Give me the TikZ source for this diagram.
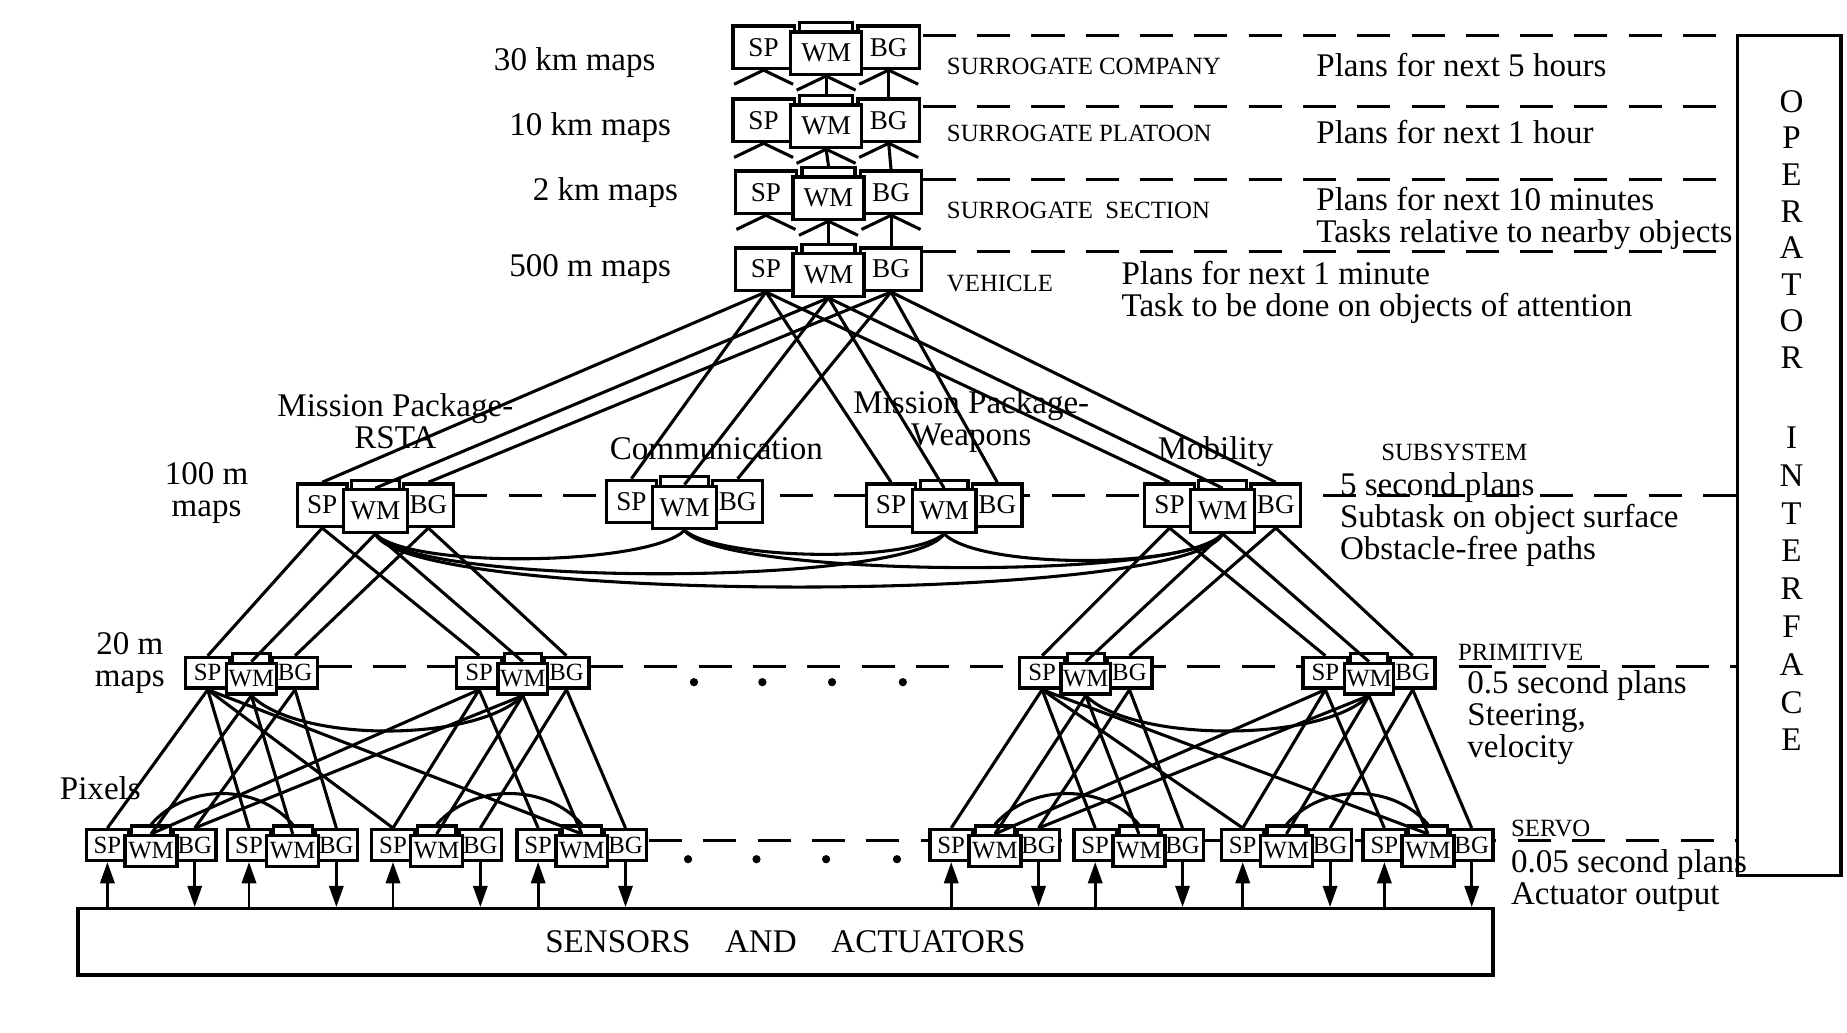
\documentclass[tikz,border=0pt]{standalone}
\usepackage{fontspec}
\setmainfont{Liberation Serif}
\usetikzlibrary{arrows.meta,calc}
\tikzset{
  bx/.style={draw,line width=1.4pt,fill=white,inner sep=0pt},
  ln/.style={line width=1.3pt},
  dsh/.style={line width=1.4pt,dash pattern=on 14pt off 9pt},
  lbl/.style={inner sep=0pt,font=\fontsize{14}{13.5}\selectfont},
  sml/.style={inner sep=0pt,font=\fontsize{10.5}{12}\selectfont},
  arr/.style={line width=1.2pt,-{Triangle[length=9pt,width=6pt]}}
}
% name, x, y, box width, WM width, height, font
\newcommand\triad[7]{%
  \node[bx,font=#7,minimum width=#4*0.5pt,minimum height=#6*0.5pt] (#1sp) at ({#2-(#4+#5)/2+3},#3) {SP};
  \node[bx,font=#7,minimum width=#4*0.5pt,minimum height=#6*0.5pt] (#1bg) at ({#2+(#4+#5)/2-3},#3) {BG};
  \node[bx,minimum width=#5*0.75*0.5pt,minimum height=4pt] (#1tab) at (#2,{#3-#6/2+1}) {};
  \node[bx,font=#7,minimum width=#5*0.5pt,minimum height=#6*0.5pt] (#1wm) at (#2,#3+5) {WM};}
\begin{document}
\begin{tikzpicture}[x=0.5pt,y=-0.5pt]
\useasboundingbox (0,0) rectangle (1565,875);
% operator interface and sensors
\node[draw,line width=1.4pt,minimum width=44pt,minimum height=356pt,inner sep=0pt] (op) at (1516,386) {};
\foreach \c [count=\i] in {O,P,E,R,A,T,O,R} \node[lbl] (o\i) at (1518,{55+\i*31}) {\c};
\foreach \c [count=\i] in {I,N,T,E,R,F,A,C,E} \node[lbl] (i\i) at (1518,{339+\i*32}) {\c};
\node[draw,line width=1.4pt,minimum width=599.5pt,minimum height=28pt,font=\fontsize{14}{15}\selectfont] (sens) at (665.5,798) {SENSORS\hspace{1.05em}AND\hspace{1.05em}ACTUATORS};
% dashed level lines (behind boxes)
\foreach \y in {30,90,152,213,420,565,712} \coordinate (d\y) at (782,\y);
\draw[dsh] (782,30) -- (op.west |- d30);
\draw[dsh] (782,90) -- (op.west |- d90);
\draw[dsh] (782,152) -- (op.west |- d152);
\draw[dsh] (782,213) -- (op.west |- d213);
\draw[dsh] (385,420) -- (op.west |- d420);
\draw[dsh] (270,565) -- (op.west |- d565);
\draw[dsh] (550,712) -- (op.west |- d712);
% top stack
\def\tf{\fontsize{11.5}{12}\selectfont}
\triad{t1}{700}{40}{52}{60}{36}{\tf}
\triad{t2}{700}{102}{52}{60}{36}{\tf}
\triad{t3}{702}{163}{52}{60}{36}{\tf}
\triad{t4}{702}{228}{52}{60}{36}{\tf}
\foreach \a/\b in {t1/t2,t2/t3,t3/t4}{
  \draw[ln] (\a wm.south) -- (\b tab.north);
  \draw[ln] (\a bg.south) -- (\b bg.north);
  \foreach \n in {sp,wm,bg}{
    \draw[ln] (\a\n.south) -- ++(-25,12);
    \draw[ln] (\a\n.south) -- ++(25,12);}}
% subsystems
\def\sf{\fontsize{11.5}{12}\selectfont}
\triad{a1}{318}{428}{42}{54}{36}{\sf}
\triad{a2}{580}{425}{42}{54}{36}{\sf}
\triad{a3}{800}{428}{42}{54}{36}{\sf}
\triad{a4}{1036}{428}{42}{54}{36}{\sf}
\foreach \s in {a1,a2,a3,a4}
  \foreach \n in {sp,wm,bg}
    \draw[ln] (t4\n.south) -- (\s\n.north);
\foreach \a/\b/\d in {a1/a2/30,a1/a3/45,a1/a4/60,a2/a3/25,a2/a4/40,a3/a4/30}
  \draw[ln] (\a wm.south) .. controls +(30,\d) and +(-30,\d) .. (\b wm.south);
% primitives
\def\pf{\fontsize{10.5}{11}\selectfont}
\triad{p1}{213}{570}{38}{42}{26}{\pf}
\triad{p2}{443}{570}{38}{42}{26}{\pf}
\triad{p3}{920}{570}{38}{42}{26}{\pf}
\triad{p4}{1160}{570}{38}{42}{26}{\pf}
\foreach \a/\b in {a1/p1,a1/p2,a4/p3,a4/p4}
  \foreach \n in {sp,wm,bg}
    \draw[ln] (\a\n.south) -- (\b\n.north);
\draw[ln] (p1wm.south) .. controls +(40,40) and +(-40,40) .. (p2wm.south);
\draw[ln] (p3wm.south) .. controls +(40,40) and +(-40,40) .. (p4wm.south);
% servos
\triad{sA}{128}{716}{36}{44}{26}{\pf}
\triad{sB}{248}{716}{36}{44}{26}{\pf}
\triad{sC}{370}{716}{36}{44}{26}{\pf}
\triad{sD}{493}{716}{36}{44}{26}{\pf}
\triad{sE}{843}{716}{36}{44}{26}{\pf}
\triad{sF}{965}{716}{36}{44}{26}{\pf}
\triad{sG}{1090}{716}{36}{44}{26}{\pf}
\triad{sH}{1210}{716}{36}{44}{26}{\pf}
\foreach \p/\q/\r/\s/\t in {p1/p2/sA/sB/sC,p3/p4/sE/sF/sG}{
  \draw[ln] (\p sp.south) -- (\r sp.north);
  \draw[ln] (\p sp.south) -- (\s sp.north);
  \draw[ln] (\p sp.south) -- (\t sp.north);
  \draw[ln] (\p wm.south) -- (\r wm.north);
  \draw[ln] (\p wm.south) -- (\s wm.north);
  \draw[ln] (\p bg.south) -- (\r bg.north);
  \draw[ln] (\p bg.south) -- (\s bg.north);
  \draw[ln] (\q sp.south) -- (\r wm.north);
  \draw[ln] (\q sp.south) -- (\t sp.north);
  \draw[ln] (\q wm.south) -- (\r bg.north);
  \draw[ln] (\q wm.south) -- (\t wm.north);
  \draw[ln] (\q bg.south) -- (\t bg.north);}
\foreach \p/\t in {p1/sD,p3/sH}{
  \draw[ln] (\p sp.south) -- (\t wm.north);}
\foreach \p/\t in {p2/sD,p4/sH}{
  \draw[ln] (\p sp.south) -- (\t sp.north);
  \draw[ln] (\p wm.south) -- (\t wm.north);
  \draw[ln] (\p bg.south) -- (\t bg.north);}
\foreach \a/\b in {sA/sB,sC/sD,sE/sF,sG/sH}
  \draw[ln] (\a tab.north) .. controls +(30,-35) and +(-30,-35) .. (\b tab.north);
\foreach \i in {A,B,C,D,E,F,G,H}{
  \draw[arr] (sens.north -| s\i sp) -- (s\i sp.south);
  \draw[arr] (s\i bg.south) -- (sens.north -| s\i bg);}
% dots
\foreach \x in {588,646,705,765}{
  \fill (\x,578) circle (3.5);
  \fill (\x-5,728) circle (3.5);}
% left labels
\node[lbl] (m1) at (487,53) {30 km maps};
\node[lbl] (m2) at (500,108) {10 km maps};
\node[lbl] (m3) at (513,163) {2 km maps};
\node[lbl] (m4) at (500,228) {500 m maps};
\node[lbl,align=center] (m5) at (175,418) {100 m\\maps};
\node[lbl,align=center] (m6) at (110,562) {20 m\\maps};
\node[lbl] (m7) at (85,668) {Pixels};
% level names
\node[sml,anchor=west] (n1) at (802,56) {SURROGATE COMPANY};
\node[sml,anchor=west] (n2) at (802,113) {SURROGATE PLATOON};
\node[sml,anchor=west] (n3) at (802,178) {SURROGATE\ \ SECTION};
\node[sml,anchor=west] (n4) at (802,240) {VEHICLE};
\node[sml,anchor=west] (n5) at (1170,383) {SUBSYSTEM};
\node[sml,anchor=west] (n6) at (1235,553) {PRIMITIVE};
\node[sml,anchor=west] (n7) at (1280,702) {SERVO};
% plans
\node[lbl,anchor=west] (q1) at (1115,55) {Plans for next 5 hours};
\node[lbl,anchor=west] (q2) at (1115,112) {Plans for next 1 hour};
\node[lbl,anchor=west,align=left] (q3) at (1115,185) {Plans for next 10 minutes\\Tasks relative to nearby objects};
\node[lbl,anchor=west,align=left] (q4) at (950,248) {Plans for next 1 minute\\Task to be done on objects of attention};
\node[lbl,anchor=west,align=left] (q5) at (1135,440) {5 second plans\\Subtask on object surface\\Obstacle-free paths};
\node[lbl,anchor=west,align=left] (q6) at (1243,608) {0.5 second plans\\Steering,\\velocity};
\node[lbl,anchor=west,align=left] (q7) at (1280,746) {0.05 second plans\\Actuator output};
% subsystem names
\node[lbl,align=center] (b1) at (335,357) {Mission Package-\\RSTA};
\node[lbl] (b2) at (607,380) {Communication};
\node[lbl,align=center] (b3) at (823,357) {Mission Package-\\Weapons};
\node[lbl] (b4) at (1030,383) {Mobility};
\end{tikzpicture}
\end{document}
